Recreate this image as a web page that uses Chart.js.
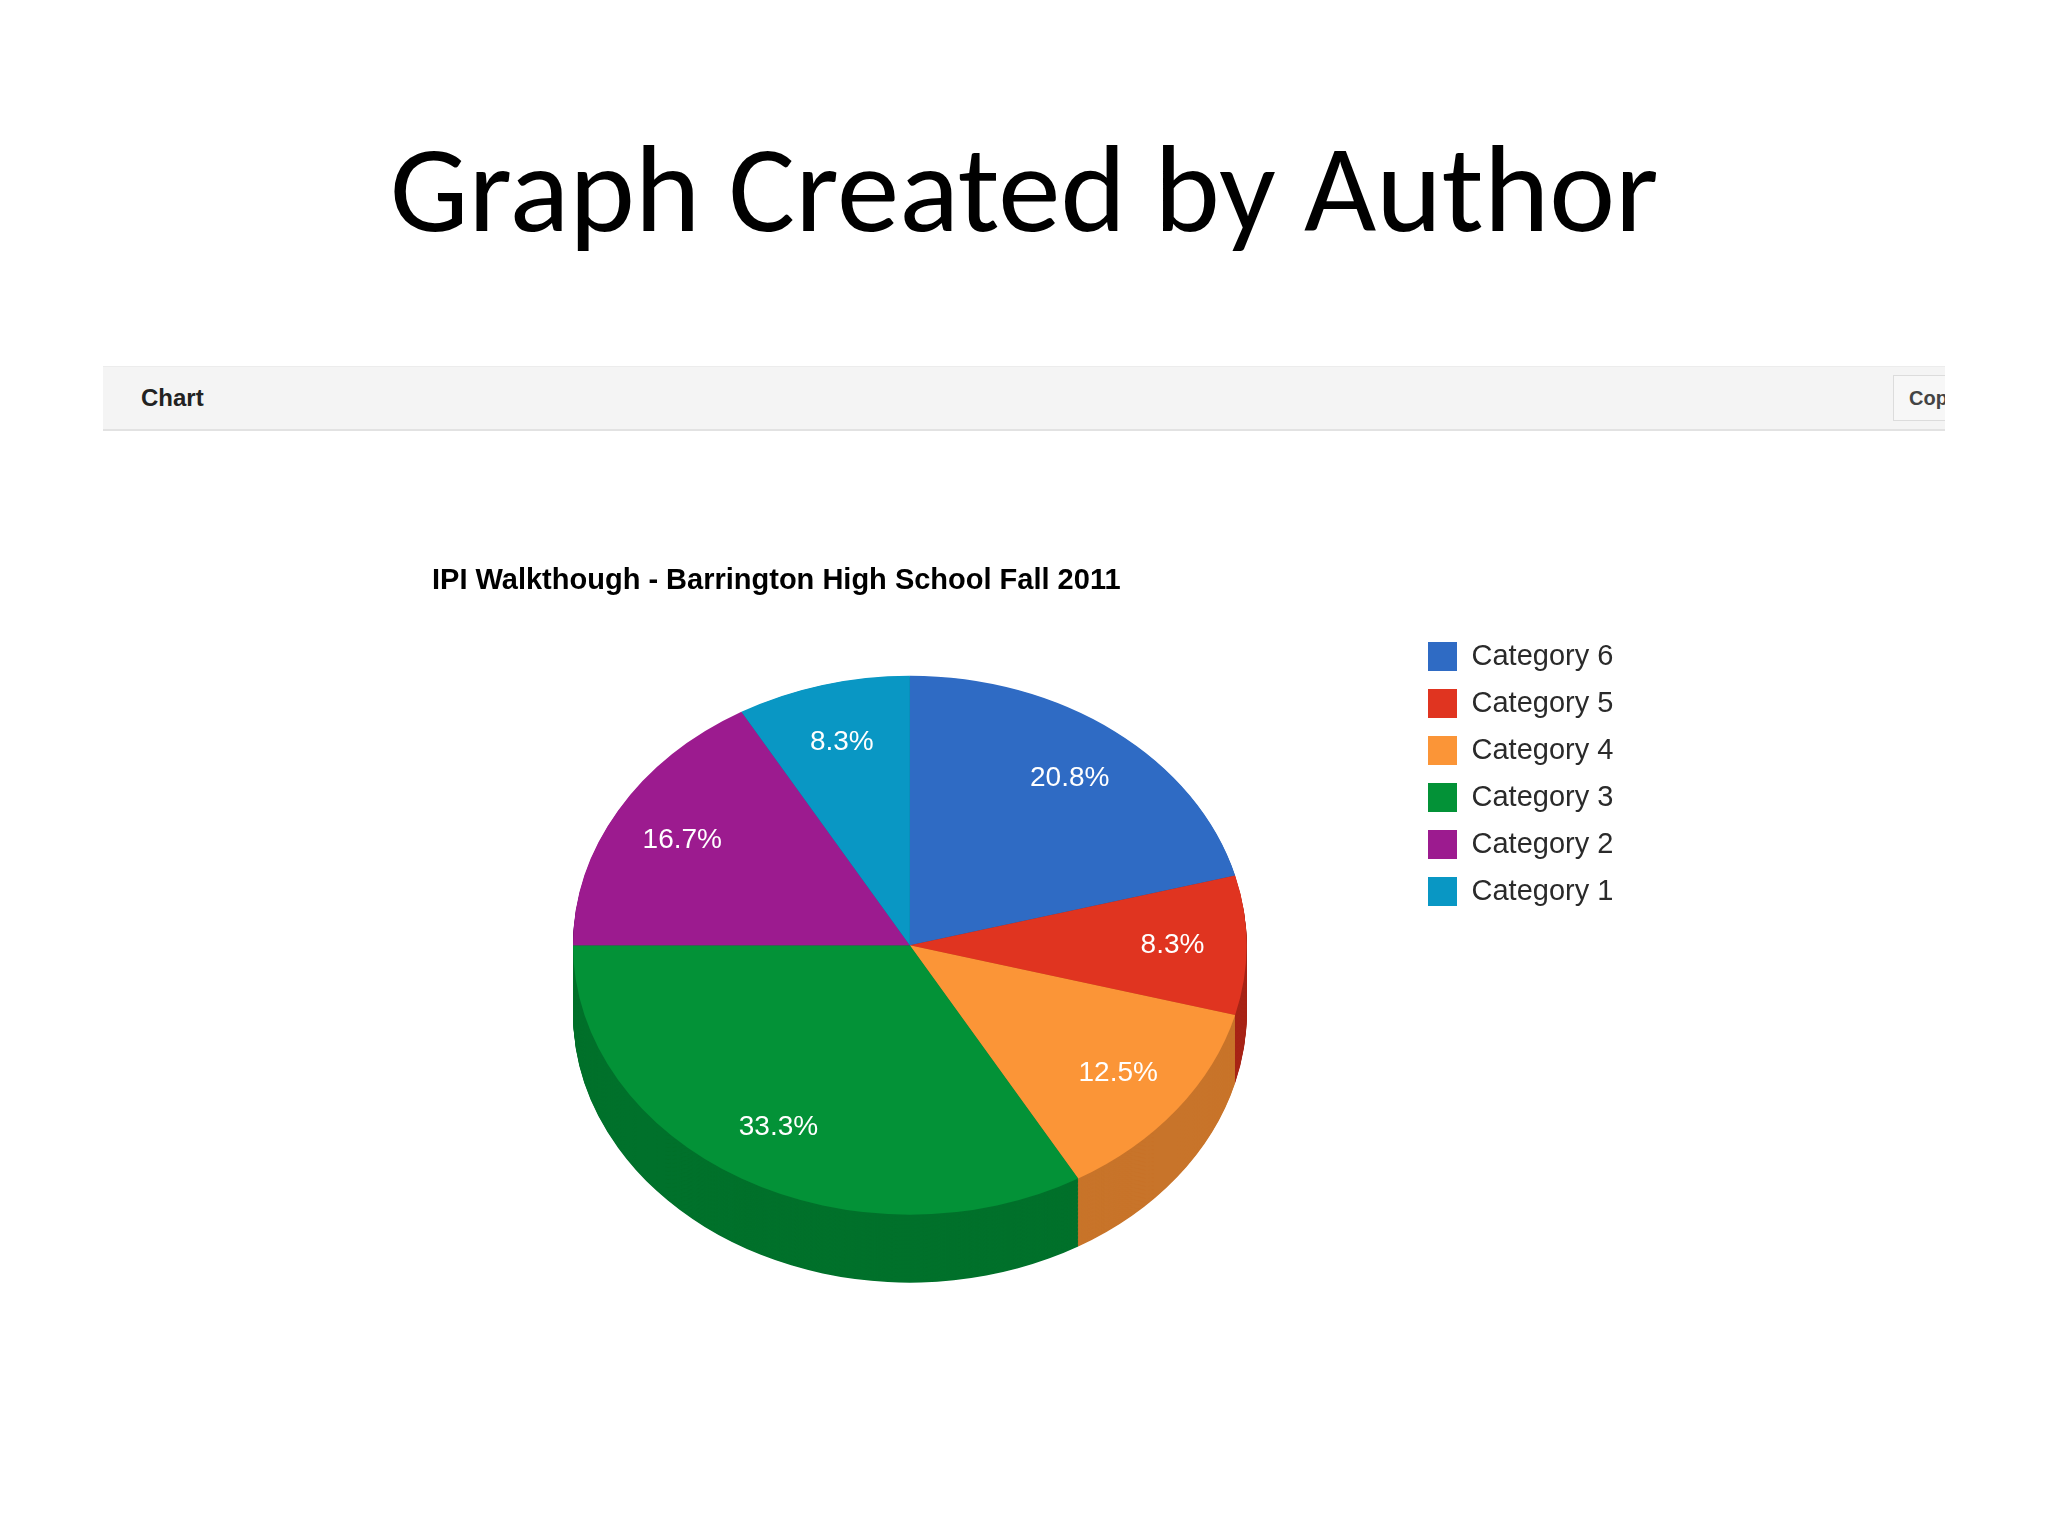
<!DOCTYPE html>
<html>
<head>
<meta charset="utf-8">
<script src="https://cdn.jsdelivr.net/npm/chart.js@4/dist/chart.umd.min.js"></script>
<style>
  html, body { margin: 0; padding: 0; background: #fff; }
  body { width: 2048px; height: 1536px; position: relative; overflow: hidden; font-family: "Liberation Sans", Arial, sans-serif; }
  #slideTitle { position: absolute; left: 0; top: 127px; width: 2048px; text-align: center; white-space: nowrap;
    font-family: Carlito, Lato, sans-serif; font-size: 124px; line-height: 124px; color: #000; }
  #slideTitle span { display: inline-block; transform-origin: 50% 50%; }
  #bar { position: absolute; left: 103px; top: 366px; width: 1842px; height: 62px; background: #f4f4f4;
    border-top: 1px solid #ececec; border-bottom: 2px solid #e2e2e2; overflow: hidden; }
  #bar .name { position: absolute; left: 38px; top: 17px; font-weight: bold; font-size: 24px; color: #222; }
  #bar .btn { position: absolute; left: 1790px; top: 8px; width: 80px; height: 46px; background: #f7f7f7;
    border: 1px solid #dcdcdc; box-sizing: border-box; font-weight: bold; font-size: 20px; color: #444; padding: 11px 0 0 15px; }
  #chartBox { position: absolute; left: 432px; top: 550px; width: 1209px; height: 760px; }
</style>
</head>
<body>
<div id="slideTitle"><span>Graph Created by Author</span></div>
<div id="bar"><div class="name">Chart</div><div class="btn">Copy</div></div>
<div id="chartBox"><canvas id="chart"></canvas></div>
<script>
// slide title: stretch to the width of the original
var t = document.querySelector("#slideTitle span");
t.style.transform = "scaleX(" + (1269 / t.getBoundingClientRect().width) + ")";

var chartTitle = "IPI Walkthough - Barrington High School Fall 2011";
var labels = ["Category 6", "Category 5", "Category 4", "Category 3", "Category 2", "Category 1"];
var counts = [5, 2, 3, 8, 4, 2];
var colors = ["#2f6bc4", "#e03420", "#fb9537", "#039237", "#9c1b8f", "#0997c4"];
var sideColors = ["#214d90", "#a82517", "#c8742a", "#00712b", "#72136a", "#077192"];

var TILT = 0.8;      // vertical squash of the pie
var DEPTH = 68;      // thickness of the pie edge, px
var LABEL_POS = 0.78;

var total = counts.reduce(function (a, b) { return a + b; }, 0);

var tiltPie = {
  id: "tiltPie",
  afterLayout: function (chart) {
    // put the legend where google charts had it (the legend clips to its own box)
    var lg = chart.legend;
    var w = lg.width, h = lg.height;
    lg.left = 978;
    lg.right = lg.left + w + 40;
    lg.top = 74;
    lg.bottom = lg.top + h;
  },
  beforeDatasetsDraw: function (chart) {
    var ctx = chart.ctx;
    var arcs = chart.getDatasetMeta(0).data;
    var cx = arcs[0].x, cy = arcs[0].y;
    ctx.save();
    ctx.translate(cx, cy);
    ctx.scale(1, TILT);
    ctx.translate(-cx, -cy);
    // edge of the pie: stack of darker copies below the top face
    for (var d = DEPTH / TILT; d >= 1; d -= 1) {
      arcs.forEach(function (arc, i) {
        var p = arc.getProps(["x", "y", "startAngle", "endAngle", "outerRadius"], true);
        ctx.beginPath();
        ctx.moveTo(p.x, p.y + d);
        ctx.arc(p.x, p.y + d, p.outerRadius, p.startAngle, p.endAngle);
        ctx.closePath();
        ctx.fillStyle = sideColors[i];
        ctx.fill();
      });
    }
  },
  afterDatasetsDraw: function (chart) {
    var ctx = chart.ctx;
    ctx.restore();
    var arcs = chart.getDatasetMeta(0).data;
    ctx.save();
    ctx.fillStyle = "#fff";
    ctx.font = "28px 'Liberation Sans', Arial, sans-serif";
    ctx.textAlign = "center";
    ctx.textBaseline = "middle";
    arcs.forEach(function (arc, i) {
      var p = arc.getProps(["x", "y", "startAngle", "endAngle", "outerRadius"], true);
      var mid = (p.startAngle + p.endAngle) / 2;
      var lx = p.x + Math.cos(mid) * p.outerRadius * LABEL_POS;
      var ly = p.y + Math.sin(mid) * p.outerRadius * LABEL_POS * TILT;
      ctx.fillText((counts[i] / total * 100).toFixed(1) + "%", lx, ly);
    });
    ctx.restore();
  }
};

var config = {
  type: "pie",
  data: {
    labels: labels,
    datasets: [
      {
        data: counts,
        backgroundColor: colors,
        borderWidth: 0,
        clip: false,
      },
    ],
  },
  options: {
    responsive: true,
    maintainAspectRatio: false,
    animation: false,
    events: [],
    layout: { padding: { left: 0, right: 40, top: 0, bottom: 28 } },
    plugins: {
      title: {
        display: true,
        text: chartTitle,
        align: "start",
        color: "#000",
        font: { family: "'Liberation Sans', Arial, sans-serif", size: 29, weight: "bold" },
        padding: { top: 14, bottom: 9.6 },
      },
      legend: {
        position: "right",
        align: "start",
        labels: {
          boxWidth: 29,
          boxHeight: 29,
          padding: 18,
          color: "#2a2a2a",
          font: { family: "'Liberation Sans', Arial, sans-serif", size: 29 },
        },
      },
      tooltip: { enabled: false },
    },
  },
  plugins: [tiltPie],
};

var myChart = new Chart(document.getElementById("chart"), config);
</script>
</body>
</html>
